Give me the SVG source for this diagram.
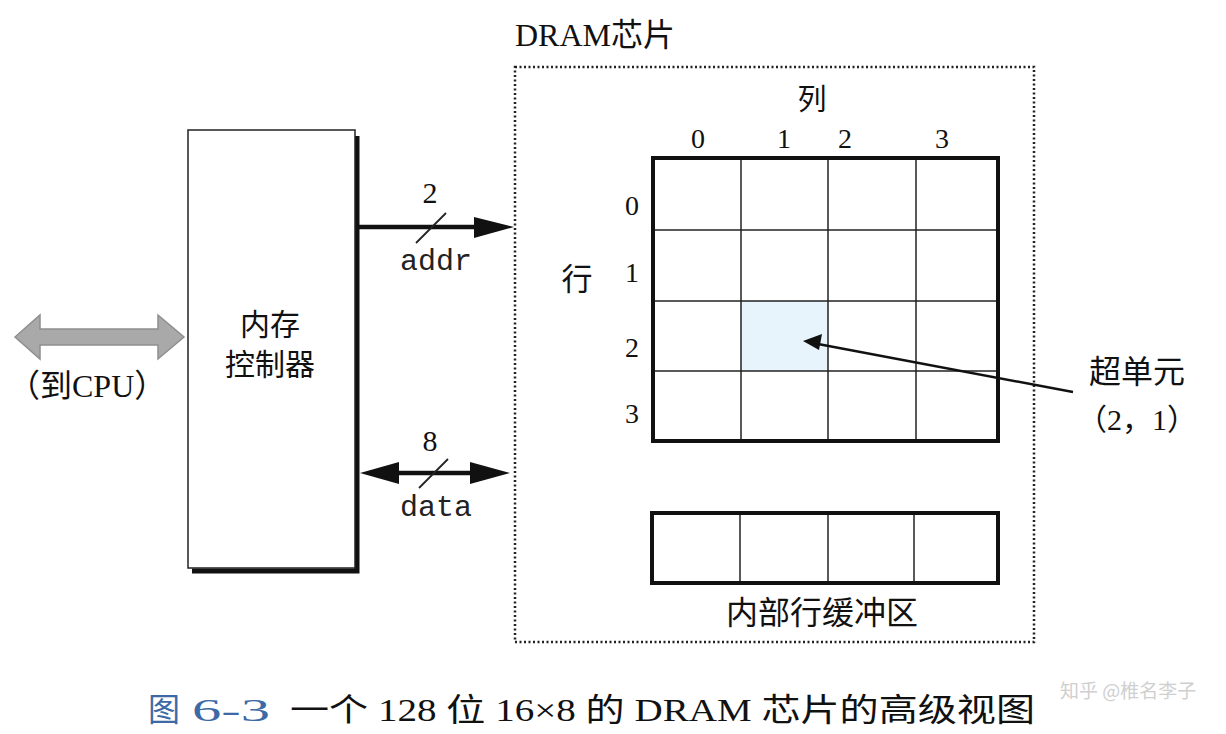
<svg xmlns="http://www.w3.org/2000/svg" width="1226" height="734" viewBox="0 0 1226 734">
<defs>
<style>
.serif{font-family:"Liberation Serif","Noto Sans CJK SC",serif;fill:#111;}
.cjk{font-family:"Noto Sans CJK SC","Liberation Sans",sans-serif;fill:#111;}
.mono{font-family:"Liberation Mono",monospace;fill:#222;}
.outer{fill:none;stroke:#111;stroke-width:4;}
.inner{fill:none;stroke:#222;stroke-width:1.5;}
.wire{stroke:#111;stroke-width:4.5;fill:none;}
.slash{stroke:#222;stroke-width:1.8;}
.head{fill:#111;}
</style>
</defs>
<rect width="1226" height="734" fill="#ffffff"/>

<g id="cpu-link">
<path d="M15,337 L40,315 L40,329 L158,329 L158,315 L184,337 L158,359 L158,345 L40,345 L40,359 Z" fill="#a9a9a9" stroke="#8f8f8f" stroke-width="1.5"/>
<text class="serif" x="8" y="397" font-size="32">（到CPU）</text>
</g>

<g id="controller">
<path d="M357,136 L357,571 L192,571" fill="none" stroke="#111" stroke-width="5"/>
<rect x="188" y="130" width="167" height="438" fill="#fff" stroke="#222" stroke-width="1.5"/>
<text class="cjk" x="270" y="335" font-size="30" text-anchor="middle">内存</text>
<text class="cjk" x="270" y="375" font-size="30" text-anchor="middle">控制器</text>
</g>

<g id="dram-chip">
<rect x="515" y="67" width="519" height="575" fill="none" stroke="#222" stroke-width="2.5" stroke-dasharray="2 2.5"/>
<text class="serif" x="515" y="46" font-size="32">DRAM芯片</text>
</g>

<g id="array">
<rect x="741" y="301" width="87" height="70" fill="#e7f4fc"/>
<line class="inner" x1="741" y1="158" x2="741" y2="441"/>
<line class="inner" x1="828" y1="158" x2="828" y2="441"/>
<line class="inner" x1="916" y1="158" x2="916" y2="441"/>
<line class="inner" x1="653" y1="230" x2="998" y2="230"/>
<line class="inner" x1="653" y1="301" x2="998" y2="301"/>
<line class="inner" x1="653" y1="371" x2="998" y2="371"/>
<rect class="outer" x="653" y="158" width="345" height="283"/>
<text class="cjk" x="812" y="110" font-size="29" text-anchor="middle">列</text>
<text class="serif" x="698" y="148" font-size="28" text-anchor="middle">0</text>
<text class="serif" x="784" y="148" font-size="28" text-anchor="middle">1</text>
<text class="serif" x="845" y="148" font-size="28" text-anchor="middle">2</text>
<text class="serif" x="942" y="148" font-size="28" text-anchor="middle">3</text>
<text class="cjk" x="577" y="290" font-size="31" text-anchor="middle">行</text>
<text class="serif" x="632" y="215" font-size="28" text-anchor="middle">0</text>
<text class="serif" x="632" y="282" font-size="28" text-anchor="middle">1</text>
<text class="serif" x="632" y="357" font-size="28" text-anchor="middle">2</text>
<text class="serif" x="632" y="423" font-size="28" text-anchor="middle">3</text>
</g>

<g id="supercell-label">
<text class="cjk" x="1137" y="383" font-size="32" text-anchor="middle">超单元</text>
<text class="serif" x="1137" y="430" font-size="30" text-anchor="middle">（2，1）</text>
</g>

<g id="row-buffer">
<line class="inner" x1="740" y1="512" x2="740" y2="583"/>
<line class="inner" x1="828" y1="512" x2="828" y2="583"/>
<line class="inner" x1="914" y1="512" x2="914" y2="583"/>
<rect class="outer" x="652" y="513" width="346" height="70"/>
<text class="cjk" x="822" y="624" font-size="32" text-anchor="middle">内部行缓冲区</text>
</g>

<g id="connectors">
<line class="wire" x1="357" y1="227" x2="480" y2="227"/>
<polygon class="head" points="474,217 514,227 474,238"/>
<line class="slash" x1="446" y1="213" x2="416" y2="243"/>
<text class="serif" x="430" y="203" font-size="30" text-anchor="middle">2</text>
<text class="mono" x="436" y="270" font-size="30" text-anchor="middle">addr</text>

<line class="wire" x1="395" y1="473" x2="474" y2="473"/>
<polygon class="head" points="360,473 399,462 399,484"/>
<polygon class="head" points="470,462 510,473 470,484"/>
<line class="slash" x1="448" y1="459" x2="419" y2="488"/>
<text class="serif" x="430" y="451" font-size="30" text-anchor="middle">8</text>
<text class="mono" x="436" y="516" font-size="30" text-anchor="middle">data</text>

<line x1="1073" y1="392" x2="818" y2="344" stroke="#111" stroke-width="2.5"/>
<polygon class="head" points="803,341 822,334 819,350"/>
</g>

<g id="caption">
<text class="serif" x="148" y="721" font-size="32" style="fill:#3d6aa6">图</text>
<text class="serif" x="192" y="721" font-size="32" style="fill:#3d6aa6" textLength="78" lengthAdjust="spacingAndGlyphs">6-3</text>
<text class="serif" x="290" y="721" font-size="32" textLength="745" lengthAdjust="spacingAndGlyphs">一个 128 位 16×8 的 DRAM 芯片的高级视图</text>
<text class="cjk" x="1060" y="698" font-size="19" style="fill:#cfcfcf">知乎 @椎名李子</text>
</g>
</svg>
